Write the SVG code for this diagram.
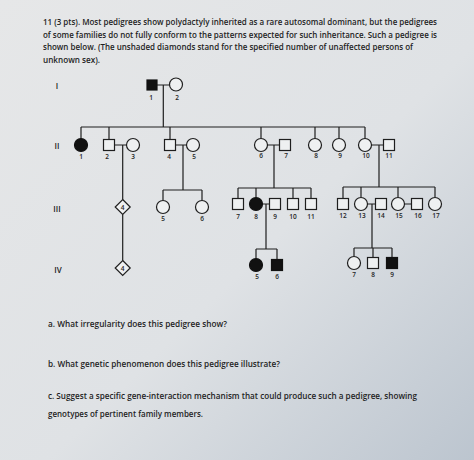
<svg xmlns="http://www.w3.org/2000/svg" width="474" height="460" viewBox="0 0 474 460">
<defs>
<linearGradient id="bg" x1="0" y1="0" x2="1" y2="1">
<stop offset="0" stop-color="#e6e7e8"/>
<stop offset="0.55" stop-color="#dfe2e5"/>
<stop offset="1" stop-color="#bcc5cf"/>
</linearGradient>
<style>
.t{font-family:"Open Sans","Liberation Sans",sans-serif;font-size:8px;font-weight:600;fill:#1e1e1e}
.n{font-family:"Open Sans","Liberation Sans",sans-serif;font-size:6.5px;font-weight:600;fill:#1e1e1e;text-anchor:middle}
.g{font-family:"Open Sans","Liberation Sans",sans-serif;font-size:8px;font-weight:600;fill:#222;text-anchor:middle}
.s{fill:none;stroke:#1e1e1e;stroke-width:1.2}
.o{fill:#eef0f1;stroke:#1e1e1e;stroke-width:1.2}
.f{fill:#111;stroke:#111;stroke-width:1.2}
</style>
</defs>
<rect width="474" height="460" fill="url(#bg)"/>
<g id="text">
<text class="t" x="43" y="25" textLength="394" lengthAdjust="spacingAndGlyphs">11 (3 pts). Most pedigrees show polydactyly inherited as a rare autosomal dominant, but the pedigrees</text>
<text class="t" x="43" y="37.5" textLength="394" lengthAdjust="spacingAndGlyphs">of some families do not fully conform to the patterns expected for such inheritance. Such a pedigree is</text>
<text class="t" x="43" y="50" textLength="370" lengthAdjust="spacingAndGlyphs">shown below. (The unshaded diamonds stand for the specified number of unaffected persons of</text>
<text class="t" x="43" y="63" textLength="57" lengthAdjust="spacingAndGlyphs">unknown sex).</text>
<text class="t" x="48" y="327" textLength="179" lengthAdjust="spacingAndGlyphs">a. What irregularity does this pedigree show?</text>
<text class="t" x="48" y="367" textLength="232" lengthAdjust="spacingAndGlyphs">b. What genetic phenomenon does this pedigree illustrate?</text>
<text class="t" x="48" y="399" textLength="369" lengthAdjust="spacingAndGlyphs">c. Suggest a specific gene-interaction mechanism that could produce such a pedigree, showing</text>
<text class="t" x="48" y="417" textLength="155" lengthAdjust="spacingAndGlyphs">genotypes of pertinent family members.</text>
<text class="g" x="57" y="89">I</text>
<text class="g" x="57" y="149">II</text>
<text class="g" x="57" y="212">III</text>
<text class="g" x="58" y="273">IV</text>
</g>
<g id="connectors" class="s">
<path d="M157 85H169.5M163.3 85V127M81 127H365"/>
<path d="M81 127V138.5M109 127V139.5M170 127V139.5M261 127V138.5M315 127V138.5M339 127V138.5M365 127V138.5"/>
<path d="M114.5 145H126.5M122.7 145V199.5M175.5 145H186.5M183 145V190M163 190H202M163 190V200.5M202 190V200.5"/>
<path d="M267.5 145H279.5M274 145V188M238 188H311M238 188V198.5M256 188V197.5M293 188V198.5M311 188V198.5"/>
<path d="M371.5 145H383.5M379 145V187M343 187H435M343 187V198.5M361 187V197.5M398 187V197.5M435 187V197.5"/>
<path d="M262.5 204H269.5M266 204V249M256 249H277M256 249V258.5M277 249V259.5"/>
<path d="M367.5 204H375.5M372 204V248M354 248H392M354 248V256.5M373 248V257.5M392 248V257.5M404.5 204H411.5"/>
<path d="M122.7 214.5V260.5"/>
</g>
<g id="I-1"><rect class="f" x="147" y="80" width="10" height="10"/><text class="n" x="151" y="100">1</text></g>
<g id="I-2"><circle class="o" cx="176" cy="84.5" r="6.5"/><text class="n" x="177" y="100">2</text></g>
<g id="II-1"><circle class="f" cx="81" cy="145" r="6.5"/><text class="n" x="81" y="159">1</text></g>
<g id="II-2"><rect class="o" x="103.5" y="139.5" width="11" height="11"/><text class="n" x="107" y="159">2</text></g>
<g id="II-3"><circle class="o" cx="133" cy="145" r="6.5"/><text class="n" x="133" y="159">3</text></g>
<g id="II-4"><rect class="o" x="164.5" y="139.5" width="11" height="11"/><text class="n" x="169" y="159">4</text></g>
<g id="II-5"><circle class="o" cx="193" cy="145" r="6.5"/><text class="n" x="194" y="159">5</text></g>
<g id="II-6"><circle class="o" cx="261" cy="145" r="6.5"/><text class="n" x="261" y="158">6</text></g>
<g id="II-7"><rect class="o" x="279.5" y="139.5" width="11" height="11"/><text class="n" x="286" y="158">7</text></g>
<g id="II-8"><circle class="o" cx="315" cy="145" r="6.5"/><text class="n" x="316" y="158">8</text></g>
<g id="II-9"><circle class="o" cx="339" cy="145" r="6.5"/><text class="n" x="340" y="158">9</text></g>
<g id="II-10"><circle class="o" cx="365" cy="145" r="6.5"/><text class="n" x="366" y="158">10</text></g>
<g id="II-11"><rect class="o" x="383.5" y="139.5" width="11" height="11"/><text class="n" x="389" y="158">11</text></g>
<g id="III-4"><path class="o" d="M122.7 199.5L130.2 207L122.7 214.5L115.2 207Z"/><text class="n" x="122.7" y="209.5">4</text></g>
<g id="III-5"><circle class="o" cx="163" cy="207" r="6.5"/><text class="n" x="163" y="221">5</text></g>
<g id="III-6"><circle class="o" cx="202" cy="207" r="6.5"/><text class="n" x="202" y="221">6</text></g>
<g id="III-7"><rect class="o" x="232.5" y="198.5" width="11" height="11"/><text class="n" x="238" y="219">7</text></g>
<g id="III-8"><circle class="f" cx="256" cy="204" r="6.5"/><text class="n" x="256" y="219">8</text></g>
<g id="III-9"><rect class="o" x="269.5" y="198.5" width="11" height="11"/><text class="n" x="275" y="219">9</text></g>
<g id="III-10"><rect class="o" x="287.5" y="198.5" width="11" height="11"/><text class="n" x="293" y="219">10</text></g>
<g id="III-11"><rect class="o" x="305.5" y="198.5" width="11" height="11"/><text class="n" x="311" y="219">11</text></g>
<g id="III-12"><rect class="o" x="337.5" y="198.5" width="11" height="11"/><text class="n" x="343" y="218">12</text></g>
<g id="III-13"><circle class="o" cx="361" cy="204" r="6.5"/><text class="n" x="362" y="218">13</text></g>
<g id="III-14"><rect class="o" x="375.5" y="198.5" width="11" height="11"/><text class="n" x="381" y="218">14</text></g>
<g id="III-15"><circle class="o" cx="398" cy="204" r="6.5"/><text class="n" x="399" y="218">15</text></g>
<g id="III-16"><rect class="o" x="411.5" y="198.5" width="11" height="11"/><text class="n" x="418" y="218">16</text></g>
<g id="III-17"><circle class="o" cx="435" cy="204" r="6.5"/><text class="n" x="436" y="218">17</text></g>
<g id="IV-4"><path class="o" d="M122.7 260.5L130.2 268L122.7 275.5L115.2 268Z"/><text class="n" x="122.7" y="270.5">4</text></g>
<g id="IV-5"><circle class="f" cx="256" cy="265" r="6.5"/><text class="n" x="257" y="279">5</text></g>
<g id="IV-6"><rect class="f" x="271.5" y="259.5" width="11" height="11"/><text class="n" x="277" y="279">6</text></g>
<g id="IV-7"><circle class="o" cx="354" cy="263" r="6.5"/><text class="n" x="354" y="277">7</text></g>
<g id="IV-8"><rect class="o" x="367.5" y="257.5" width="11" height="11"/><text class="n" x="373" y="277">8</text></g>
<g id="IV-9"><rect class="f" x="386.5" y="257.5" width="11" height="11"/><text class="n" x="392" y="277">9</text></g>
</svg>
